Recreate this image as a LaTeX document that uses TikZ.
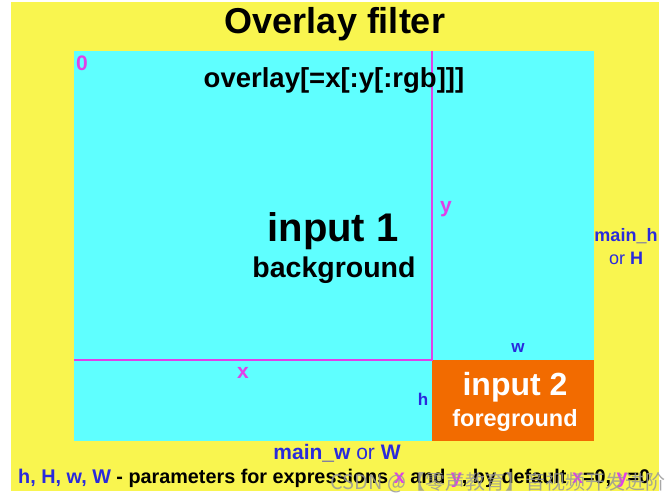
\documentclass[tikz,border=0pt]{standalone}
\usepackage{fontspec}
\setmainfont{Liberation Sans}
\newfontfamily\cjkfont{Noto Sans CJK SC}
\definecolor{bgyellow}{HTML}{F9F54F}
\definecolor{cyanbox}{HTML}{5FFFFF}
\definecolor{orangebox}{HTML}{F26B00}
\definecolor{magen}{HTML}{E040E8}
\definecolor{bluetxt}{HTML}{2A2ADC}
\newcommand{\fs}[1]{\fontsize{#1}{#1}\selectfont}
\begin{document}
\begin{tikzpicture}[x=1pt,y=-1pt,
  lbl/.style={inner sep=0pt,font=\bfseries},
  mag/.style={lbl,text=magen},
  blu/.style={lbl,text=bluetxt},
  guide/.style={draw=magen,line width=1.5pt}]
\useasboundingbox (0,0) rectangle (670,503);
\fill[white] (0,0) rectangle (670,503);
\fill[bgyellow] (11,2) rectangle (659,491);
\fill[cyanbox] (74,51) rectangle (594,441);
\node[fill=orangebox,minimum width=162pt,minimum height=81pt,inner sep=0pt,anchor=north west] (fg) at (432,360) {};
\coordinate (top) at (432,51);
\coordinate (left) at (74,360);
\coordinate (corner) at (432,360);
\draw[guide] (top) -- (corner) -- (left);
\node[lbl,font=\bfseries\fs{36}] (title) at (335,24) {Overlay filter};
\node[lbl,font=\bfseries\fs{27.5}] (syntax) at (334,80) {overlay[=x[:y[:rgb]]]};
\node[mag,font=\bfseries\fs{21}] (zero) at (82,63) {0};
\node[lbl,font=\bfseries\fs{40}] (in1) at (333,231) {input 1};
\node[lbl,font=\bfseries\fs{28.5}] (bg) at (334,270) {background};
\node[mag,font=\bfseries\fs{21}] (ylab) at (446,209) {y};
\node[blu,font=\fs{18}] (mh) at (626,236) {\bfseries main\_h};
\node[blu,font=\fs{18}] (orH) at (626,258) {or \bfseries H};
\node[mag,font=\bfseries\fs{21}] (xlab) at (243,373) {x};
\node[blu,font=\bfseries\fs{17}] (wlab) at (518,348) {w};
\node[blu,font=\bfseries\fs{17}] (hlab) at (423,399) {h};
\node[lbl,text=white,font=\bfseries\fs{32}] (in2) at (515,387) {input 2};
\node[lbl,text=white,font=\bfseries\fs{23.5}] (fgt) at (515,420) {foreground};
\node[blu,font=\fs{21}] (mw) at (337,453) {\bfseries main\_w \mdseries or \bfseries W};
\node[lbl,anchor=west,font=\bfseries\fs{19.8}] (params) at (18,478) {\textcolor{bluetxt}{h, H, w, W} - parameters for expressions \textcolor{magen}{x} and \textcolor{magen}{y}, by default \textcolor{magen}{x}=0, \textcolor{magen}{y}=0};
\node[inner sep=0pt,anchor=west,text=gray!80,opacity=0.85,font=\cjkfont\fs{20}] (wm) at (330,483) {CSDN @【零声教育】音视频开发进阶};
\end{tikzpicture}
\end{document}
